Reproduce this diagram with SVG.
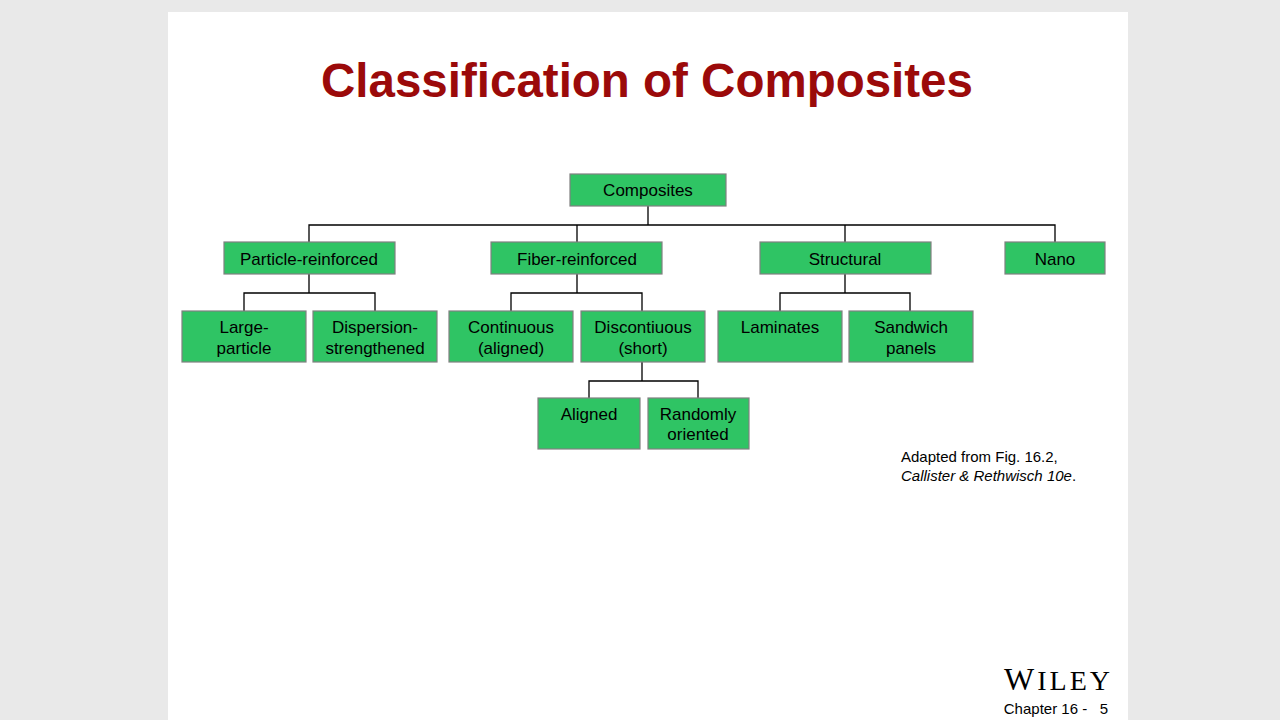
<svg xmlns="http://www.w3.org/2000/svg" width="1280" height="720" viewBox="0 0 1280 720">
<style>
.n rect{fill:#2fc464;stroke:#808080;stroke-width:1.2}
.n text{font-family:"Liberation Sans",Arial,sans-serif;font-size:17px;fill:#000;text-anchor:middle}
#conn path{fill:none;stroke:#000;stroke-width:1.3}
.t{font-family:"Liberation Sans",Arial,sans-serif}
</style>
<rect width="1280" height="720" fill="#e9e9e9"/>
<rect x="168" y="12" width="960" height="708" fill="#fff"/>
<text class="t" x="647" y="97" font-size="47.5" font-weight="bold" fill="#9b0a0a" text-anchor="middle">Classification of Composites</text>
<g id="conn">
<path d="M648 206V225M309 242V225H1055V242M577 225V242M845 225V242"/>
<path d="M309 274V293M244 311V293H375V311"/>
<path d="M577 274V293M511 311V293H642V311"/>
<path d="M845 274V293M780 311V293H910V311"/>
<path d="M642 362V381M589 398V381H698V398"/>
</g>
<g id="composites" class="n"><rect x="570" y="174" width="156" height="32"/><text x="648" y="196">Composites</text></g>
<g id="particle" class="n"><rect x="224" y="242" width="171" height="32"/><text x="309" y="265">Particle-reinforced</text></g>
<g id="fiber" class="n"><rect x="491" y="242" width="171" height="32"/><text x="577" y="265">Fiber-reinforced</text></g>
<g id="structural" class="n"><rect x="760" y="242" width="171" height="32"/><text x="845" y="265">Structural</text></g>
<g id="nano" class="n"><rect x="1005" y="242" width="100" height="32"/><text x="1055" y="265">Nano</text></g>
<g id="large" class="n"><rect x="182" y="311" width="124" height="51"/><text x="244" y="333">Large-</text><text x="244" y="354">particle</text></g>
<g id="dispersion" class="n"><rect x="313" y="311" width="124" height="51"/><text x="375" y="333">Dispersion-</text><text x="375" y="354">strengthened</text></g>
<g id="continuous" class="n"><rect x="449" y="311" width="124" height="51"/><text x="511" y="333">Continuous</text><text x="511" y="354">(aligned)</text></g>
<g id="discontinuous" class="n"><rect x="581" y="311" width="124" height="51"/><text x="643" y="333">Discontiuous</text><text x="643" y="354">(short)</text></g>
<g id="laminates" class="n"><rect x="718" y="311" width="124" height="51"/><text x="780" y="333">Laminates</text></g>
<g id="sandwich" class="n"><rect x="849" y="311" width="124" height="51"/><text x="911" y="333">Sandwich</text><text x="911" y="354">panels</text></g>
<g id="aligned" class="n"><rect x="538" y="398" width="102" height="51"/><text x="589" y="420">Aligned</text></g>
<g id="random" class="n"><rect x="648" y="398" width="101" height="51"/><text x="698" y="420">Randomly</text><text x="698" y="440">oriented</text></g>
<text class="t" x="901" y="462" font-size="15">Adapted from Fig. 16.2,</text>
<text class="t" x="901" y="481" font-size="15"><tspan font-style="italic">Callister &amp; Rethwisch 10e</tspan>.</text>
<text x="1113" y="690" font-family="Liberation Serif,serif" font-size="32" text-anchor="end" letter-spacing="3">W<tspan font-size="28">ILEY</tspan></text>
<text class="t" x="1108" y="714" font-size="15" text-anchor="end" xml:space="preserve">Chapter 16 -   5</text>
</svg>
